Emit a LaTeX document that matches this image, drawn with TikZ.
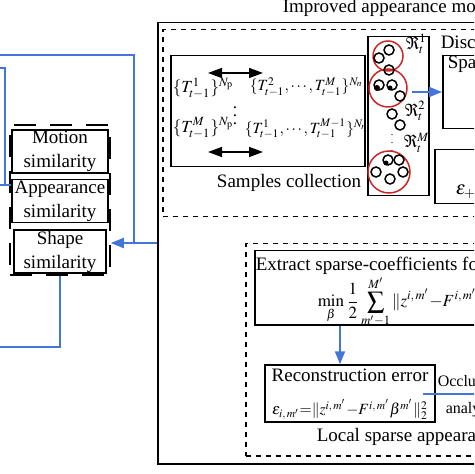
\documentclass[tikz,border=0pt]{standalone}
\usepackage{mathptmx}
\usepackage{fontspec}
\setmainfont{Liberation Serif}
\usetikzlibrary{arrows.meta, positioning}
\definecolor{linkblue}{RGB}{68,118,218}
\definecolor{regred}{RGB}{206,38,38}

\begin{document}
\begin{tikzpicture}[x=0.5pt, y=-0.5pt, line width=0.75pt,
                    every node/.style={font=\fontsize{9.5}{12}\selectfont, inner sep=0pt},
                    small/.style={font=\fontsize{8.5}{10}\selectfont},
                    smaller/.style={font=\fontsize{7.8}{9}\selectfont},
                    box/.style={draw, rectangle, align=center},
                    cornerbox/.style={box, anchor=north west},
                    simbox/.style={box, minimum width=48pt, minimum height=21.5pt},
                    dashbox/.style={draw, anchor=north west, dash pattern=on 2.5pt off 2.5pt},
                    link/.style={draw=linkblue, line width=1pt},
                    linkarrow/.style={link, -{Triangle[length=6.5pt, width=5pt]}},
                    pair/.style={{Triangle[length=7pt, width=5pt]}-{Triangle[length=7pt, width=5pt]}},
                    ring/.style={circle, draw, minimum size=5pt},
                    region/.style={circle, draw=regred}]
                    \useasboundingbox (0,0) rectangle (474,474);
                    \clip (0,0) rectangle (474,474);

                    % similarity group
                    \node[simbox](mot) at (60,151.5) {Motion\\similarity};
                    \node[simbox, below=2.5pt of mot](app) {Appearance\\similarity};
                    \node[simbox, below=3pt of app, minimum width=46pt](shp) {Shape\\similarity};
                    \node[draw, dash pattern=on 11pt off 7pt, minimum width=50pt, minimum height=75pt](grp) at (60,200) {};

                    % improved appearance model
                    \node[cornerbox, minimum width=161.5pt, minimum height=220.5pt](iam) at (157,22) {};
                    \node[anchor=west](iamt) at (282,8) {Improved appearance mo};
                    \node[dashbox, minimum width=159pt, minimum height=93.5pt](sel) at (162,29) {};

                    % samples collection
                    \node[cornerbox, minimum width=97pt, minimum height=55.5pt](smp) at (170,55) {};
                    \node(smpt) at (289,183) {Samples collection};
                    \node[small, anchor=west](tp1) at (172,88) {$\{T^1_{t-1}\}^{N_{\mathrm{p}}}$};
                    \node[small, anchor=west](tpm) at (172,128) {$\{T^M_{t-1}\}^{N_{\mathrm{p}}}$};
                    \node[smaller, anchor=west](tn1) at (249,87) {$\{T^2_{t-1},\cdots,T^M_{t-1}\}^{N_n}$};
                    \node[smaller, anchor=west](tnm) at (244,129) {$\{T^1_{t-1},\cdots,T^{M-1}_{t-1}\}^{N_n}$};
                    \node[small](svd) at (235,110) {$\vdots$};
                    \coordinate(a1l) at (208,73);
                    \coordinate(a1r) at (263,73);
                    \coordinate(a2l) at (208,152);
                    \coordinate(a2r) at (263,152);
                    \draw[pair] (a1l) -- (a1r);
                    \draw[pair] (a2l) -- (a2r);

                    % regions
                    \node[cornerbox, minimum width=30.5pt, minimum height=79.5pt](cbx) at (367,36) {};
                    \node[region, minimum size=15pt](reg1) at (388,56) {};
                    \node[region, minimum size=19pt](reg2) at (388,88) {};
                    \node[region, minimum size=21pt](reg3) at (389,172) {};
                    \foreach \p [count=\k] in {(379,58),(389,50),(389,70),(379,85),(392,85),(400,96),
                                               (392,114),(400,125),(388,160),(399,160),(376,172),(403,172),(390,179)}
                        \node[ring](rg\k) at \p {};
                    \fill (377,88) circle (3);
                    \fill (390,88) circle (2.5);
                    \fill (386,163) circle (2.5);
                    \node[font=\tiny](cvd) at (392,137) {$\vdots$};
                    \node[small, anchor=west](lr1) at (405,44) {$\Re^1_t$};
                    \node[small, anchor=west](lr2) at (404,111) {$\Re^2_t$};
                    \node[small, anchor=west](lrm) at (403,143) {$\Re^M_t$};

                    % discriminative part
                    \node[anchor=west](disct) at (440,42) {Disc};
                    \node[cornerbox, minimum width=19pt, minimum height=36.5pt](spa) at (442,55) {};
                    \node[anchor=west](spat) at (447,64) {Spa};
                    \node[cornerbox, minimum width=23pt, minimum height=27pt](eps) at (434,149) {};
                    \node[anchor=west](epst) at (455,192) {$\varepsilon_+{=}$};
                    \coordinate(c2o) at (412,92);
                    \draw[linkarrow] (c2o) -- (c2o -| spa.west);

                    % local sparse appearance
                    \node[dashbox, minimum width=117.5pt, minimum height=106pt](lsa) at (245,243) {};
                    \node[cornerbox, minimum width=113pt, minimum height=37pt](ext) at (254,250) {};
                    \node[anchor=west](extt) at (255,266) {Extract sparse-coefficients fo};
                    \node[small, anchor=west](extf) at (317,302) {$\displaystyle\min_{\beta}\frac{1}{2}\sum_{m'-1}^{M'}\|z^{i,\,m'}{-}F^{i,\,m'}\beta^{m'}$};
                    \node[box, minimum width=85pt, minimum height=28.5pt](rec) at (350,393.5) {};
                    \node(rect) at (350,375) {Reconstruction error};
                    \node[smaller](recf) at (350,410) {$\varepsilon_{i,\,m'}{=}\|z^{i,\,m'}{-}F^{i,\,m'}\beta^{m'}\|_2^2$};
                    \coordinate(ax) at (340,0);
                    \draw[linkarrow] (ext.south -| ax) -- (rec.north -| ax);
                    \node[anchor=west, font=\fontsize{8}{10}\selectfont](occt) at (437,381) {Occlu};
                    \node[anchor=west, font=\fontsize{8}{10}\selectfont](anat) at (445,410) {analy};
                    \coordinate(occ) at (423,394);
                    \coordinate(occr) at (480,394);
                    \draw[link] (occ) -- (occr);
                    \node[anchor=west](lsat) at (316,437) {Local sparse appeara};

                    % blue links on the left
                    \coordinate(l1) at (0,55);
                    \coordinate(jn) at (134,243);
                    \draw[link] (l1) -| (jn);
                    \draw[linkarrow] (iam.west |- jn) -- (grp.east |- jn);
                    \coordinate(l2) at (0,68);
                    \coordinate(l2b) at (5,185);
                    \coordinate(l2e) at (0,185);
                    \draw[link] (l2) -| (l2b);
                    \draw[link] (l2e) -- (app.west |- l2e);
                    \coordinate(l3) at (0,347);
                    \draw[link] (grp.south) |- (l3);
                \end{tikzpicture}
\end{document}
